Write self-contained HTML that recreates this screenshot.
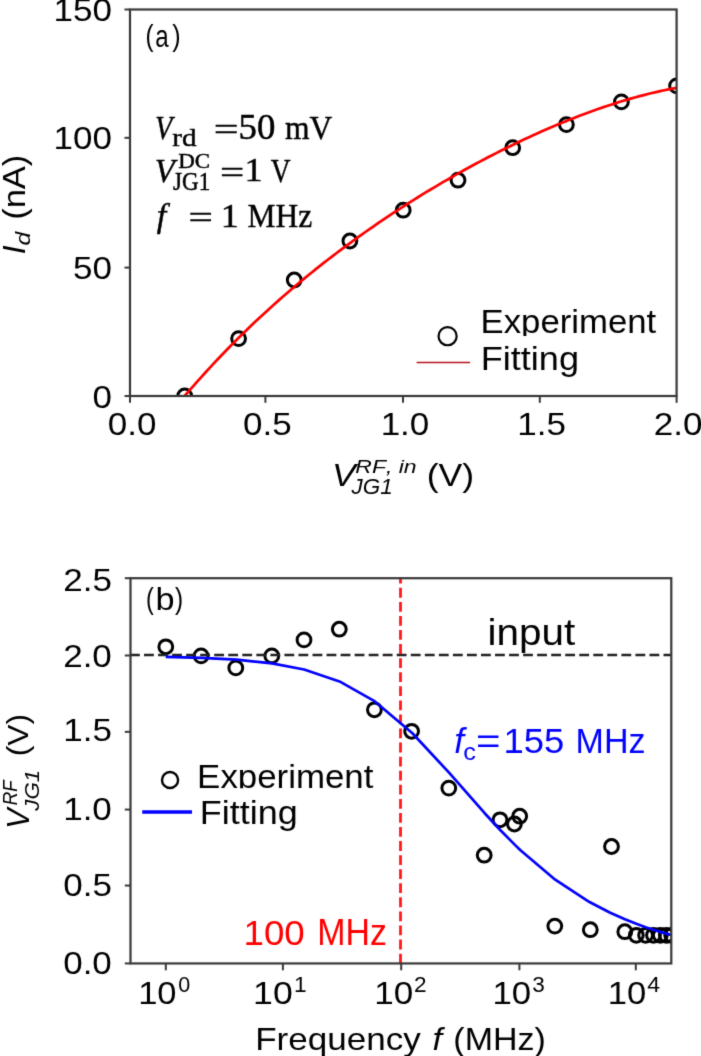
<!DOCTYPE html>
<html><head><meta charset="utf-8"><style>
html,body{margin:0;padding:0;background:#fff;overflow:hidden;}
svg{display:block;will-change:transform;}
text{font-kerning:none;}
</style></head><body>
<svg width="701" height="1056" viewBox="0 0 701 1056">
<filter id="soft" x="0" y="0" width="701" height="1056" filterUnits="userSpaceOnUse" color-interpolation-filters="sRGB"><feConvolveMatrix order="3" kernelMatrix="0.01440 0.09120 0.01440 0.09120 0.57760 0.09120 0.01440 0.09120 0.01440" divisor="1" edgeMode="duplicate"/></filter>
<g filter="url(#soft)">
<rect width="701" height="1056" fill="#fff"/>
<clipPath id="ca"><rect x="130.0" y="9.5" width="546.60" height="386.50"/></clipPath>
<clipPath id="cb"><rect x="130.5" y="578.2" width="540.80" height="385.25"/></clipPath>
<circle clip-path="url(#ca)" cx="184.70" cy="396.00" r="6.9" fill="none" stroke="#000" stroke-width="3.0"/>
<circle clip-path="url(#ca)" cx="238.60" cy="338.60" r="6.9" fill="none" stroke="#000" stroke-width="3.0"/>
<circle clip-path="url(#ca)" cx="294.25" cy="280.00" r="6.9" fill="none" stroke="#000" stroke-width="3.0"/>
<circle clip-path="url(#ca)" cx="349.90" cy="241.00" r="6.9" fill="none" stroke="#000" stroke-width="3.0"/>
<circle clip-path="url(#ca)" cx="403.20" cy="210.20" r="6.9" fill="none" stroke="#000" stroke-width="3.0"/>
<circle clip-path="url(#ca)" cx="458.00" cy="180.20" r="6.9" fill="none" stroke="#000" stroke-width="3.0"/>
<circle clip-path="url(#ca)" cx="512.70" cy="147.70" r="6.9" fill="none" stroke="#000" stroke-width="3.0"/>
<circle clip-path="url(#ca)" cx="566.40" cy="124.60" r="6.9" fill="none" stroke="#000" stroke-width="3.0"/>
<circle clip-path="url(#ca)" cx="621.40" cy="101.90" r="6.9" fill="none" stroke="#000" stroke-width="3.0"/>
<circle clip-path="url(#ca)" cx="676.60" cy="85.90" r="6.9" fill="none" stroke="#000" stroke-width="3.0"/>
<polyline clip-path="url(#ca)" points="184.66,396.00 188.76,391.23 192.86,386.52 196.96,381.87 201.06,377.29 205.16,372.76 209.26,368.29 213.36,363.87 217.46,359.51 221.56,355.20 225.66,350.95 229.75,346.75 233.85,342.60 237.95,338.51 242.05,334.46 246.15,330.46 250.25,326.51 254.35,322.60 258.45,318.75 262.55,314.93 266.65,311.17 270.75,307.44 274.85,303.76 278.95,300.12 283.05,296.52 287.15,292.97 291.25,289.45 295.35,285.97 299.45,282.53 303.55,279.13 307.64,275.77 311.74,272.44 315.84,269.15 319.94,265.89 324.04,262.67 328.14,259.48 332.24,256.33 336.34,253.21 340.44,250.12 344.54,247.06 348.64,244.04 352.74,241.04 356.84,238.08 360.94,235.14 365.04,232.24 369.14,229.36 373.24,226.52 377.34,223.70 381.44,220.91 385.54,218.15 389.63,215.41 393.73,212.70 397.83,210.02 401.93,207.37 406.03,204.74 410.13,202.13 414.23,199.56 418.33,197.00 422.43,194.47 426.53,191.97 430.63,189.49 434.73,187.04 438.83,184.61 442.93,182.20 447.03,179.82 451.13,177.46 455.23,175.13 459.33,172.82 463.43,170.53 467.53,168.27 471.62,166.03 475.72,163.81 479.82,161.62 483.92,159.45 488.02,157.30 492.12,155.18 496.22,153.08 500.32,151.01 504.42,148.96 508.52,146.93 512.62,144.93 516.72,142.95 520.82,140.99 524.92,139.06 529.02,137.16 533.12,135.28 537.22,133.42 541.32,131.59 545.42,129.79 549.52,128.01 553.62,126.26 557.71,124.53 561.81,122.83 565.91,121.16 570.01,119.51 574.11,117.90 578.21,116.31 582.31,114.75 586.41,113.22 590.51,111.71 594.61,110.24 598.71,108.80 602.81,107.39 606.91,106.01 611.01,104.66 615.11,103.34 619.21,102.06 623.31,100.80 627.41,99.59 631.51,98.41 635.61,97.26 639.70,96.15 643.80,95.07 647.90,94.03 652.00,93.03 656.10,92.07 660.20,91.14 664.30,90.26 668.40,89.41 672.50,88.61 676.60,87.84" fill="none" stroke="#ff0000" stroke-width="2.7" stroke-linejoin="round"/>
<rect x="130.0" y="9.5" width="546.60" height="386.50" fill="none" stroke="#383838" stroke-width="2.2"/>
<line x1="124.5" y1="396.05" x2="130.0" y2="396.05" stroke="#383838" stroke-width="2.0"/>
<text x="92.59" y="407.55" font-family='"Liberation Sans", sans-serif' font-size="31.00" textLength="19.48" lengthAdjust="spacingAndGlyphs" fill="#000">0</text>
<line x1="124.5" y1="267.60" x2="130.0" y2="267.60" stroke="#383838" stroke-width="2.0"/>
<text x="73.10" y="278.60" font-family='"Liberation Sans", sans-serif' font-size="31.00" textLength="38.96" lengthAdjust="spacingAndGlyphs" fill="#000">50</text>
<line x1="124.5" y1="137.80" x2="130.0" y2="137.80" stroke="#383838" stroke-width="2.0"/>
<text x="53.62" y="148.80" font-family='"Liberation Sans", sans-serif' font-size="31.00" textLength="58.45" lengthAdjust="spacingAndGlyphs" fill="#000">100</text>
<line x1="124.5" y1="9.50" x2="130.0" y2="9.50" stroke="#383838" stroke-width="2.0"/>
<text x="53.62" y="21.30" font-family='"Liberation Sans", sans-serif' font-size="31.00" textLength="58.45" lengthAdjust="spacingAndGlyphs" fill="#000">150</text>
<line x1="130.00" y1="396.0" x2="130.00" y2="402.8" stroke="#383838" stroke-width="2.0"/>
<text x="107.75" y="435.00" font-family='"Liberation Sans", sans-serif' font-size="31.00" textLength="48.70" lengthAdjust="spacingAndGlyphs" fill="#000">0.0</text>
<line x1="265.40" y1="396.0" x2="265.40" y2="402.8" stroke="#383838" stroke-width="2.0"/>
<text x="243.10" y="435.00" font-family='"Liberation Sans", sans-serif' font-size="31.00" textLength="48.70" lengthAdjust="spacingAndGlyphs" fill="#000">0.5</text>
<line x1="403.00" y1="396.0" x2="403.00" y2="402.8" stroke="#383838" stroke-width="2.0"/>
<text x="380.65" y="435.00" font-family='"Liberation Sans", sans-serif' font-size="31.00" textLength="48.70" lengthAdjust="spacingAndGlyphs" fill="#000">1.0</text>
<line x1="539.80" y1="396.0" x2="539.80" y2="402.8" stroke="#383838" stroke-width="2.0"/>
<text x="517.25" y="435.00" font-family='"Liberation Sans", sans-serif' font-size="31.00" textLength="48.70" lengthAdjust="spacingAndGlyphs" fill="#000">1.5</text>
<line x1="676.60" y1="396.0" x2="676.60" y2="402.8" stroke="#383838" stroke-width="2.0"/>
<text x="653.86" y="435.00" font-family='"Liberation Sans", sans-serif' font-size="31.00" textLength="48.70" lengthAdjust="spacingAndGlyphs" fill="#000">2.0</text>
<text x="145.50" y="45.60" font-family='"Liberation Sans", sans-serif' font-size="29.80" textLength="8.04" lengthAdjust="spacingAndGlyphs" fill="#000">(</text>
<text x="172.25" y="45.60" font-family='"Liberation Sans", sans-serif' font-size="29.80" textLength="8.42" lengthAdjust="spacingAndGlyphs" fill="#000">)</text>
<text x="155.37" y="47.10" font-family='"Liberation Sans", sans-serif' font-size="31.04" textLength="13.43" lengthAdjust="spacingAndGlyphs" fill="#000">a</text>
<text x="154.92" y="138.90" font-family='"Liberation Serif", serif' font-size="34.36" textLength="17.35" lengthAdjust="spacingAndGlyphs" font-style="italic" stroke="#000" stroke-width="0.45" stroke-linejoin="round" fill="#000">V</text>
<text x="172.32" y="146.00" font-family='"Liberation Serif", serif' font-size="25.94" textLength="24.24" lengthAdjust="spacingAndGlyphs" stroke="#000" stroke-width="0.45" stroke-linejoin="round" fill="#000">rd</text>
<text x="213.81" y="140.00" font-family='"Liberation Serif", serif' font-size="31.00" textLength="24.85" lengthAdjust="spacingAndGlyphs" stroke="#000" stroke-width="0.45" stroke-linejoin="round" fill="#000">=</text>
<text x="238.56" y="139.00" font-family='"Liberation Serif", serif' font-size="35.34" textLength="36.84" lengthAdjust="spacingAndGlyphs" stroke="#000" stroke-width="0.45" stroke-linejoin="round" fill="#000">50</text>
<text x="285.04" y="139.30" font-family='"Liberation Serif", serif' font-size="34.67" textLength="47.32" lengthAdjust="spacingAndGlyphs" stroke="#000" stroke-width="0.45" stroke-linejoin="round" fill="#000">mV</text>
<text x="154.69" y="181.70" font-family='"Liberation Serif", serif' font-size="34.67" textLength="19.96" lengthAdjust="spacingAndGlyphs" font-style="italic" stroke="#000" stroke-width="0.45" stroke-linejoin="round" fill="#000">V</text>
<text x="178.24" y="167.50" font-family='"Liberation Serif", serif' font-size="20.54" textLength="31.82" lengthAdjust="spacingAndGlyphs" stroke="#000" stroke-width="0.45" stroke-linejoin="round" fill="#000">DC</text>
<text x="173.02" y="189.60" font-family='"Liberation Serif", serif' font-size="24.32" textLength="37.17" lengthAdjust="spacingAndGlyphs" stroke="#000" stroke-width="0.45" stroke-linejoin="round" fill="#000">JG1</text>
<text x="219.96" y="182.60" font-family='"Liberation Serif", serif' font-size="31.00" textLength="24.24" lengthAdjust="spacingAndGlyphs" stroke="#000" stroke-width="0.45" stroke-linejoin="round" fill="#000">=</text>
<text x="244.60" y="181.00" font-family='"Liberation Serif", serif' font-size="33.48" textLength="18.18" lengthAdjust="spacingAndGlyphs" stroke="#000" stroke-width="0.45" stroke-linejoin="round" fill="#000">1</text>
<text x="270.69" y="181.90" font-family='"Liberation Serif", serif' font-size="34.06" textLength="19.82" lengthAdjust="spacingAndGlyphs" stroke="#000" stroke-width="0.45" stroke-linejoin="round" fill="#000">V</text>
<text x="156.63" y="226.50" font-family='"Liberation Serif", serif' font-size="34.00" textLength="9.45" lengthAdjust="spacingAndGlyphs" font-style="italic" stroke="#000" stroke-width="0.45" stroke-linejoin="round" fill="#000">f</text>
<text x="188.45" y="227.90" font-family='"Liberation Serif", serif' font-size="31.00" textLength="24.36" lengthAdjust="spacingAndGlyphs" stroke="#000" stroke-width="0.45" stroke-linejoin="round" fill="#000">=</text>
<text x="220.80" y="226.70" font-family='"Liberation Serif", serif' font-size="34.39" textLength="18.18" lengthAdjust="spacingAndGlyphs" stroke="#000" stroke-width="0.45" stroke-linejoin="round" fill="#000">1</text>
<text x="247.59" y="226.50" font-family='"Liberation Serif", serif' font-size="34.36" textLength="64.68" lengthAdjust="spacingAndGlyphs" stroke="#000" stroke-width="0.45" stroke-linejoin="round" fill="#000">MHz</text>
<circle cx="447.60" cy="336.20" r="9.05" fill="none" stroke="#000" stroke-width="2.2"/>
<line x1="416.6" y1="362.5" x2="470.1" y2="362.5" stroke="#b5141c" stroke-width="1.7"/>
<clipPath id="clega"><rect x="470" y="290" width="200" height="46"/></clipPath>
<text x="480.55" y="332.50" font-family='"Liberation Sans", sans-serif' font-size="33.40" textLength="175.70" lengthAdjust="spacingAndGlyphs" fill="#000" clip-path="url(#clega)">Experiment</text>
<text x="480.74" y="370.00" font-family='"Liberation Sans", sans-serif' font-size="32.57" textLength="98.29" lengthAdjust="spacingAndGlyphs" fill="#000">Fitting</text>
<text x="331.95" y="485.80" font-family='"Liberation Sans", sans-serif' font-size="31.11" textLength="23.51" lengthAdjust="spacingAndGlyphs" font-style="italic" fill="#000">V</text>
<text x="355.29" y="473.20" font-family='"Liberation Sans", sans-serif' font-size="18.22" textLength="61.35" lengthAdjust="spacingAndGlyphs" font-style="italic" fill="#000">RF, in</text>
<text x="351.55" y="494.20" font-family='"Liberation Sans", sans-serif' font-size="22.77" textLength="41.24" lengthAdjust="spacingAndGlyphs" font-style="italic" fill="#000">JG1</text>
<text x="426.69" y="485.80" font-family='"Liberation Sans", sans-serif' font-size="31.00" textLength="47.52" lengthAdjust="spacingAndGlyphs" fill="#000">(V)</text>
<g transform="rotate(-90)"><text x="-254.25" y="25.00" font-family='"Liberation Sans", sans-serif' font-size="31.83" textLength="8.81" lengthAdjust="spacingAndGlyphs" font-style="italic" fill="#000">I</text><text x="-245.63" y="30.20" font-family='"Liberation Sans", sans-serif' font-size="20.50" textLength="13.68" lengthAdjust="spacingAndGlyphs" font-style="italic" fill="#000">d</text><text x="-219.84" y="25.00" font-family='"Liberation Sans", sans-serif' font-size="31.00" textLength="65.18" lengthAdjust="spacingAndGlyphs" fill="#000">(nA)</text></g>
<circle clip-path="url(#cb)" cx="165.80" cy="646.80" r="6.9" fill="none" stroke="#000" stroke-width="3.0"/>
<circle clip-path="url(#cb)" cx="201.10" cy="655.90" r="6.9" fill="none" stroke="#000" stroke-width="3.0"/>
<circle clip-path="url(#cb)" cx="235.80" cy="667.90" r="6.9" fill="none" stroke="#000" stroke-width="3.0"/>
<circle clip-path="url(#cb)" cx="271.80" cy="655.90" r="6.9" fill="none" stroke="#000" stroke-width="3.0"/>
<circle clip-path="url(#cb)" cx="304.00" cy="639.90" r="6.9" fill="none" stroke="#000" stroke-width="3.0"/>
<circle clip-path="url(#cb)" cx="339.30" cy="629.20" r="6.9" fill="none" stroke="#000" stroke-width="3.0"/>
<circle clip-path="url(#cb)" cx="374.40" cy="709.80" r="6.9" fill="none" stroke="#000" stroke-width="3.0"/>
<circle clip-path="url(#cb)" cx="411.60" cy="731.30" r="6.9" fill="none" stroke="#000" stroke-width="3.0"/>
<circle clip-path="url(#cb)" cx="448.80" cy="788.10" r="6.9" fill="none" stroke="#000" stroke-width="3.0"/>
<circle clip-path="url(#cb)" cx="484.20" cy="855.20" r="6.9" fill="none" stroke="#000" stroke-width="3.0"/>
<circle clip-path="url(#cb)" cx="500.00" cy="819.80" r="6.9" fill="none" stroke="#000" stroke-width="3.0"/>
<circle clip-path="url(#cb)" cx="514.40" cy="824.00" r="6.9" fill="none" stroke="#000" stroke-width="3.0"/>
<circle clip-path="url(#cb)" cx="519.70" cy="816.20" r="6.9" fill="none" stroke="#000" stroke-width="3.0"/>
<circle clip-path="url(#cb)" cx="554.80" cy="926.10" r="6.9" fill="none" stroke="#000" stroke-width="3.0"/>
<circle clip-path="url(#cb)" cx="590.30" cy="929.70" r="6.9" fill="none" stroke="#000" stroke-width="3.0"/>
<circle clip-path="url(#cb)" cx="611.50" cy="846.50" r="6.9" fill="none" stroke="#000" stroke-width="3.0"/>
<circle clip-path="url(#cb)" cx="624.80" cy="931.70" r="6.9" fill="none" stroke="#000" stroke-width="3.0"/>
<circle clip-path="url(#cb)" cx="636.30" cy="935.30" r="6.9" fill="none" stroke="#000" stroke-width="3.0"/>
<circle clip-path="url(#cb)" cx="645.61" cy="935.30" r="6.9" fill="none" stroke="#000" stroke-width="3.0"/>
<circle clip-path="url(#cb)" cx="653.49" cy="935.30" r="6.9" fill="none" stroke="#000" stroke-width="3.0"/>
<circle clip-path="url(#cb)" cx="660.31" cy="935.30" r="6.9" fill="none" stroke="#000" stroke-width="3.0"/>
<circle clip-path="url(#cb)" cx="666.33" cy="935.30" r="6.9" fill="none" stroke="#000" stroke-width="3.0"/>
<circle clip-path="url(#cb)" cx="671.71" cy="935.30" r="6.9" fill="none" stroke="#000" stroke-width="3.0"/>
<line x1="130.0" y1="655.0" x2="671.3" y2="655.0" stroke="#222" stroke-width="2.4" stroke-dasharray="9.8 4.24"/>
<line x1="400.5" y1="963.45" x2="400.5" y2="578.2" stroke="#ff1a1a" stroke-width="2.8" stroke-dasharray="9.8 4.27"/>
<polyline clip-path="url(#cb)" points="165.74,656.86 201.15,657.82 236.57,659.71 271.98,663.38 304.10,669.49 339.51,681.41 374.92,701.41 412.42,733.21 449.05,772.67 484.46,812.97 500.44,830.21 514.95,844.89 520.17,849.91 554.07,878.76 589.49,902.07 610.20,912.82 624.90,919.35 636.30,923.84 645.61,927.18 653.49,929.79 660.31,931.91 666.33,933.66 671.71,935.15" fill="none" stroke="#0000ff" stroke-width="2.7" stroke-linejoin="round"/>
<rect x="130.5" y="578.2" width="540.80" height="385.25" fill="none" stroke="#383838" stroke-width="2.2"/>
<line x1="124.8" y1="963.45" x2="130.5" y2="963.45" stroke="#383838" stroke-width="2.0"/>
<text x="63.17" y="974.45" font-family='"Liberation Sans", sans-serif' font-size="31.00" textLength="48.70" lengthAdjust="spacingAndGlyphs" fill="#000">0.0</text>
<line x1="124.8" y1="885.56" x2="130.5" y2="885.56" stroke="#383838" stroke-width="2.0"/>
<text x="63.27" y="895.86" font-family='"Liberation Sans", sans-serif' font-size="31.00" textLength="48.70" lengthAdjust="spacingAndGlyphs" fill="#000">0.5</text>
<line x1="124.8" y1="809.56" x2="130.5" y2="809.56" stroke="#383838" stroke-width="2.0"/>
<text x="63.17" y="819.86" font-family='"Liberation Sans", sans-serif' font-size="31.00" textLength="48.70" lengthAdjust="spacingAndGlyphs" fill="#000">1.0</text>
<line x1="124.8" y1="731.84" x2="130.5" y2="731.84" stroke="#383838" stroke-width="2.0"/>
<text x="63.27" y="740.54" font-family='"Liberation Sans", sans-serif' font-size="31.00" textLength="48.70" lengthAdjust="spacingAndGlyphs" fill="#000">1.5</text>
<line x1="124.8" y1="655.50" x2="130.5" y2="655.50" stroke="#383838" stroke-width="2.0"/>
<text x="63.17" y="666.50" font-family='"Liberation Sans", sans-serif' font-size="31.00" textLength="48.70" lengthAdjust="spacingAndGlyphs" fill="#000">2.0</text>
<line x1="124.8" y1="578.20" x2="130.5" y2="578.20" stroke="#383838" stroke-width="2.0"/>
<text x="63.27" y="590.70" font-family='"Liberation Sans", sans-serif' font-size="31.00" textLength="48.70" lengthAdjust="spacingAndGlyphs" fill="#000">2.5</text>
<line x1="165.80" y1="963.45" x2="165.80" y2="970.3" stroke="#383838" stroke-width="2.0"/>
<text x="138.17" y="1003.90" font-family='"Liberation Sans", sans-serif' font-size="31.00" textLength="38.38" lengthAdjust="spacingAndGlyphs" fill="#000">10</text>
<text x="178.26" y="992.40" font-family='"Liberation Sans", sans-serif' font-size="22.80" textLength="11.98" lengthAdjust="spacingAndGlyphs" fill="#000">0</text>
<line x1="282.90" y1="963.45" x2="282.90" y2="970.3" stroke="#383838" stroke-width="2.0"/>
<text x="253.13" y="1003.90" font-family='"Liberation Sans", sans-serif' font-size="31.00" textLength="39.66" lengthAdjust="spacingAndGlyphs" fill="#000">10</text>
<text x="293.97" y="992.40" font-family='"Liberation Sans", sans-serif' font-size="22.80" textLength="12.64" lengthAdjust="spacingAndGlyphs" fill="#000">1</text>
<line x1="401.20" y1="963.45" x2="401.20" y2="970.3" stroke="#383838" stroke-width="2.0"/>
<text x="374.33" y="1003.90" font-family='"Liberation Sans", sans-serif' font-size="31.00" textLength="38.99" lengthAdjust="spacingAndGlyphs" fill="#000">10</text>
<text x="414.06" y="992.40" font-family='"Liberation Sans", sans-serif' font-size="22.80" textLength="12.57" lengthAdjust="spacingAndGlyphs" fill="#000">2</text>
<line x1="519.40" y1="963.45" x2="519.40" y2="970.3" stroke="#383838" stroke-width="2.0"/>
<text x="492.45" y="1003.90" font-family='"Liberation Sans", sans-serif' font-size="31.00" textLength="38.71" lengthAdjust="spacingAndGlyphs" fill="#000">10</text>
<text x="532.34" y="992.40" font-family='"Liberation Sans", sans-serif' font-size="22.80" textLength="12.55" lengthAdjust="spacingAndGlyphs" fill="#000">3</text>
<line x1="635.80" y1="963.45" x2="635.80" y2="970.3" stroke="#383838" stroke-width="2.0"/>
<text x="607.66" y="1003.90" font-family='"Liberation Sans", sans-serif' font-size="31.00" textLength="38.49" lengthAdjust="spacingAndGlyphs" fill="#000">10</text>
<text x="647.27" y="992.40" font-family='"Liberation Sans", sans-serif' font-size="22.80" textLength="12.80" lengthAdjust="spacingAndGlyphs" fill="#000">4</text>
<text x="145.95" y="608.90" font-family='"Liberation Sans", sans-serif' font-size="29.00" textLength="7.79" lengthAdjust="spacingAndGlyphs" fill="#000">(</text>
<text x="175.06" y="608.90" font-family='"Liberation Sans", sans-serif' font-size="29.00" textLength="8.16" lengthAdjust="spacingAndGlyphs" fill="#000">)</text>
<text x="155.49" y="610.40" font-family='"Liberation Sans", sans-serif' font-size="31.60" textLength="19.05" lengthAdjust="spacingAndGlyphs" fill="#000">b</text>
<text x="487.49" y="644.80" font-family='"Liberation Sans", sans-serif' font-size="36.16" textLength="87.70" lengthAdjust="spacingAndGlyphs" fill="#000">input</text>
<text x="454.18" y="752.80" font-family='"Liberation Sans", sans-serif' font-size="35.05" textLength="9.74" lengthAdjust="spacingAndGlyphs" font-style="italic" fill="#0000ff">f</text>
<text x="463.23" y="760.00" font-family='"Liberation Sans", sans-serif' font-size="23.97" textLength="12.64" lengthAdjust="spacingAndGlyphs" fill="#0000ff">c</text>
<text x="476.05" y="752.80" font-family='"Liberation Sans", sans-serif' font-size="34.40" textLength="24.52" lengthAdjust="spacingAndGlyphs" fill="#0000ff">=</text>
<text x="503.52" y="752.60" font-family='"Liberation Sans", sans-serif' font-size="34.59" textLength="60.81" lengthAdjust="spacingAndGlyphs" fill="#0000ff">155</text>
<text x="575.61" y="752.80" font-family='"Liberation Sans", sans-serif' font-size="35.18" textLength="69.99" lengthAdjust="spacingAndGlyphs" fill="#0000ff">MHz</text>
<text x="243.50" y="944.80" font-family='"Liberation Sans", sans-serif' font-size="35.52" textLength="61.23" lengthAdjust="spacingAndGlyphs" fill="#ff0000">100</text>
<text x="317.22" y="944.80" font-family='"Liberation Sans", sans-serif' font-size="36.05" textLength="69.67" lengthAdjust="spacingAndGlyphs" fill="#ff0000">MHz</text>
<circle cx="170.05" cy="780.00" r="8.05" fill="none" stroke="#000" stroke-width="2.4"/>
<clipPath id="clegb"><rect x="190" y="740" width="200" height="48.3"/></clipPath>
<text x="197.14" y="788.10" font-family='"Liberation Sans", sans-serif' font-size="33.54" textLength="176.32" lengthAdjust="spacingAndGlyphs" fill="#000" clip-path="url(#clegb)">Experiment</text>
<line x1="142.2" y1="812.0" x2="192.0" y2="812.0" stroke="#0000ff" stroke-width="3.6"/>
<text x="199.85" y="823.50" font-family='"Liberation Sans", sans-serif' font-size="32.57" textLength="97.97" lengthAdjust="spacingAndGlyphs" fill="#000">Fitting</text>
<text x="255.23" y="1049.70" font-family='"Liberation Sans", sans-serif' font-size="31.11" textLength="165.54" lengthAdjust="spacingAndGlyphs" fill="#000">Frequency</text>
<text x="432.64" y="1049.90" font-family='"Liberation Sans", sans-serif' font-size="31.88" textLength="9.58" lengthAdjust="spacingAndGlyphs" font-style="italic" fill="#000">f</text>
<text x="453.39" y="1049.70" font-family='"Liberation Sans", sans-serif' font-size="31.00" textLength="92.41" lengthAdjust="spacingAndGlyphs" fill="#000">(MHz)</text>
<g transform="rotate(-90)"><text x="-828.63" y="29.20" font-family='"Liberation Sans", sans-serif' font-size="31.83" textLength="20.27" lengthAdjust="spacingAndGlyphs" font-style="italic" fill="#000">V</text><text x="-805.37" y="17.20" font-family='"Liberation Sans", sans-serif' font-size="20.50" textLength="24.90" lengthAdjust="spacingAndGlyphs" font-style="italic" fill="#000">RF</text><text x="-810.65" y="39.00" font-family='"Liberation Sans", sans-serif' font-size="20.50" textLength="40.93" lengthAdjust="spacingAndGlyphs" font-style="italic" fill="#000">JG1</text><text x="-756.37" y="27.60" font-family='"Liberation Sans", sans-serif' font-size="30.00" textLength="42.34" lengthAdjust="spacingAndGlyphs" fill="#000">(V)</text></g>
</g>
</svg>
</body></html>
